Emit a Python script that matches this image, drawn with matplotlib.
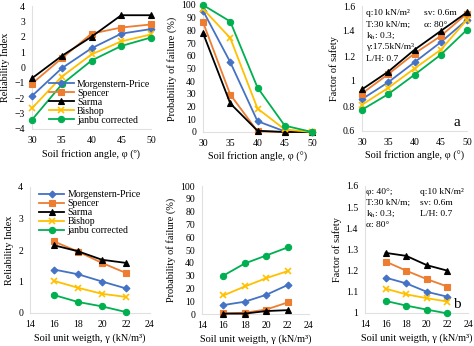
import matplotlib
matplotlib.use("Agg")
import matplotlib.pyplot as plt

plt.rcParams['font.family'] = ['Liberation Serif', 'DejaVu Serif']
plt.rcParams['mathtext.fontset'] = 'stix'

# ---- data ----
methods = ["Morgenstern-Price", "Spencer", "Sarma", "Bishop", "janbu corrected"]
colors = ["#4472C4", "#ED7D31", "#000000", "#FFC000", "#00B050"]
markers = ["D", "s", "^", "x", "o"]
msizes = [3.5, 4.5, 4.5, 4.5, 4.5]

phi = [30, 35, 40, 45, 50]
gamma = [16, 18, 20, 22]

beta_phi = {
    "Morgenstern-Price": [-1.85, -0.05, 1.25, 2.2, 2.5],
    "Spencer": [-1.05, 0.6, 2.2, 2.6, 2.8],
    "Sarma": [-0.7, 0.75, 2.0, 3.4, 3.4],
    "Bishop": [-2.65, -0.6, 0.85, 1.7, 2.15],
    "janbu corrected": [-3.4, -1.1, 0.45, 1.4, 1.95],
}
pf_phi = {
    "Morgenstern-Price": [95.5, 55, 8.5, 0.5, 0],
    "Spencer": [86.5, 29.5, 0.5, 0, 0],
    "Sarma": [78, 22.5, 1, 0, 0],
    "Bishop": [97, 74, 18.5, 2, 0],
    "janbu corrected": [100, 87, 35, 5, 0],
}
fs_phi = {
    "Morgenstern-Price": [0.855, 0.99, 1.15, 1.31, 1.49],
    "Spencer": [0.90, 1.055, 1.22, 1.36, 1.54],
    "Sarma": [0.933, 1.075, 1.25, 1.40, 1.55],
    "Bishop": [0.81, 0.945, 1.10, 1.25, 1.49],
    "janbu corrected": [0.77, 0.895, 1.05, 1.21, 1.41],
}
beta_gamma = {
    "Morgenstern-Price": [1.38, 1.23, 1.0, 0.78],
    "Spencer": [2.27, 1.95, 1.59, 1.27],
    "Sarma": [2.15, 1.96, 1.69, 1.59],
    "Bishop": [1.02, 0.80, 0.61, 0.51],
    "janbu corrected": [0.57, 0.35, 0.21, 0.03],
}
pf_gamma = {
    "Morgenstern-Price": [7, 9.6, 15, 22.6],
    "Spencer": [0.5, 1, 3.5, 9],
    "Sarma": [0.3, 0.3, 2.3, 3],
    "Bishop": [14.5, 21.5, 28, 33.5],
    "janbu corrected": [30, 39.5, 45.7, 52],
}
fs_gamma = {
    "Morgenstern-Price": [1.167, 1.14, 1.10, 1.077],
    "Spencer": [1.243, 1.20, 1.16, 1.125],
    "Sarma": [1.284, 1.27, 1.226, 1.20],
    "Bishop": [1.115, 1.088, 1.07, 1.054],
    "janbu corrected": [1.057, 1.035, 1.016, 0.998],
}

W, H = 474, 346
fig = plt.figure(figsize=(W / 100, H / 100), dpi=100)

TICK_FS = 7
LABEL_FS = 7.4
LEG_FS = 7
NOTE_FS = 6.8


def make_axes(l, r, t, b):
    return fig.add_axes([l / W, 1 - b / H, (r - l) / W, (b - t) / H])


def style(ax, xlim, xticks, ylim, yticks, xlabel, ylabel, yfmt=None):
    ax.set_xlim(*xlim)
    ax.set_ylim(*ylim)
    ax.set_xticks(xticks)
    ax.set_yticks(yticks)
    if yfmt is not None:
        ax.set_yticklabels([yfmt(v) for v in yticks])
    for s in ("top", "right"):
        ax.spines[s].set_visible(False)
    for s in ("left", "bottom"):
        ax.spines[s].set_color("#E0E0E0")
        ax.spines[s].set_linewidth(0.8)
    ax.tick_params(length=0, labelsize=TICK_FS, pad=5)
    ax.set_xlabel(xlabel, fontsize=LABEL_FS, labelpad=3)
    ax.set_ylabel(ylabel, fontsize=LABEL_FS, labelpad=3)
    ax.patch.set_alpha(0)


def plot_series(ax, x, data):
    for m, c, mk, ms in zip(methods, colors, markers, msizes):
        ax.plot(x, data[m], color=c, marker=mk, markersize=ms, lw=1.3,
                mew=1.2 if mk == "x" else 0.8, label=m, clip_on=False, zorder=3)


def fmt_num(v):
    return "%g" % v


leg_kw = dict(fontsize=LEG_FS, frameon=False, handlelength=2.6,
              handletextpad=0.3, labelspacing=0.0, borderpad=0.2)

# Top row: friction angle
ax1 = make_axes(32, 151, 6, 129)
plot_series(ax1, phi, beta_phi)
style(ax1, (30, 50), phi, (-4, 4), range(-4, 5),
      "Soil friction angle, φ (º)", "Reliability Index")
ax1.legend(loc="lower right", bbox_to_anchor=(1.05, -0.02), **leg_kw)

ax2 = make_axes(203, 312, 5, 132)
plot_series(ax2, phi, pf_phi)
style(ax2, (30, 50), phi, (0, 100), range(0, 101, 10),
      "Soil friction angle, φ (°)", "Probability of failure (%)")

ax3 = make_axes(362, 467, 6, 131)
plot_series(ax3, phi, fs_phi)
style(ax3, (30, 50), phi, (0.6, 1.6), [0.6, 0.8, 1.0, 1.2, 1.4, 1.6],
      "Soil friction angle, φ (°)", "Factor of safety", yfmt=fmt_num)
txt_kw = dict(fontsize=NOTE_FS, transform=fig.transFigure, va="center", ha="left")
fig.text(366 / W, 1 - 13 / H, "q:10 kN/m²", **txt_kw)
fig.text(424 / W, 1 - 13 / H, "sv: 0.6m", **txt_kw)
fig.text(366 / W, 1 - 25 / H, "T:30 kN/m;", **txt_kw)
fig.text(424 / W, 1 - 25 / H, "α: 80°", **txt_kw)
fig.text(366 / W, 1 - 36 / H, "k$_\\mathregular{h}$: 0.3;", **txt_kw)
fig.text(366 / W, 1 - 47 / H, "γ:17.5kN/m³", **txt_kw)
fig.text(366 / W, 1 - 59 / H, "L/H: 0.7", **txt_kw)
fig.text(457 / W, 1 - 123 / H, "a", fontsize=11, va="center", ha="center")

# Bottom row: unit weight
ax4 = make_axes(30, 150, 187, 313)
plot_series(ax4, gamma, beta_gamma)
style(ax4, (14, 24), range(14, 25, 2), (0, 4), range(0, 5),
      "Soil unit weigth, γ (kN/m³)", "Reliability Index")
ax4.legend(loc="upper left", bbox_to_anchor=(0.02, 1.03), **leg_kw)

ax5 = make_axes(202, 309, 186, 314)
plot_series(ax5, gamma, pf_gamma)
style(ax5, (14, 24), range(14, 25, 2), (0, 100), range(0, 101, 10),
      "Soil unit weigth, γ (kN/m³)", "Probability of failure (%)")

ax6 = make_axes(365, 468, 186, 313)
plot_series(ax6, gamma, fs_gamma)
style(ax6, (14, 24), range(14, 25, 2), (1.0, 1.6),
      [1.0, 1.1, 1.2, 1.3, 1.4, 1.5, 1.6],
      "Soil unit weigth, γ (kN/m³)", "Factor of safety", yfmt=fmt_num)
fig.text(366 / W, 1 - 192 / H, "φ: 40°;", **txt_kw)
fig.text(420 / W, 1 - 192 / H, "q:10 kN/m²", **txt_kw)
fig.text(366 / W, 1 - 203 / H, "T:30 kN/m;", **txt_kw)
fig.text(420 / W, 1 - 203 / H, "sv: 0.6m", **txt_kw)
fig.text(366 / W, 1 - 214 / H, "k$_\\mathregular{h}$: 0.3;", **txt_kw)
fig.text(420 / W, 1 - 214 / H, "L/H: 0.7", **txt_kw)
fig.text(366 / W, 1 - 225 / H, "α: 80°", **txt_kw)
fig.text(457 / W, 1 - 304 / H, "b", fontsize=11, va="center", ha="center")

fig.savefig("out.png", dpi=100)
